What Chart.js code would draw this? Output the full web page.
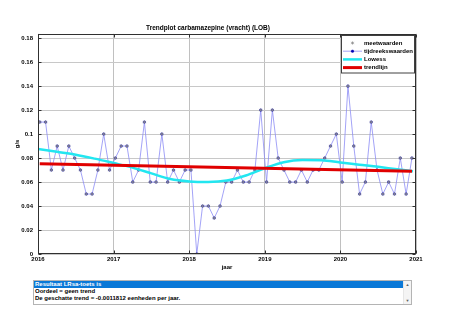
<!DOCTYPE html>
<html>
<head>
<meta charset="utf-8">
<title>Trendplot carbamazepine (vracht) (LOB)</title>
<script src="https://cdn.jsdelivr.net/npm/chart.js@4.4.0/dist/chart.umd.min.js"></script>
<style>
    html, body { margin: 0; padding: 0; background: #fff; }
    #wrap { position: relative; width: 474px; height: 315px; overflow: hidden; }
    #trend-chart { position: absolute; left: 0; top: 0; }
    .result-box {
        position: absolute; left: 33px; top: 280px; width: 377px; height: 23px;
        border: 1px solid #b4b4b4; background: #fff;
        font: bold 6px "Liberation Sans", Arial, sans-serif; color: #000;
    }
    .result-row { height: 7px; line-height: 7px; padding-left: 1px; margin-right: 8px; white-space: nowrap; }
    .result-row.selected { background: #0a78d7; color: #fff; }
    .result-scroll {
        position: absolute; right: 0; top: 0; width: 7px; height: 23px;
        border-left: 1px solid #e6e6e6; background: #f4f4f4;
        font-size: 4px; color: #606060; text-align: center;
    }
    .result-scroll span { position: absolute; left: 0; right: 0; }
</style>
</head>
<body>
<div id="wrap">
    <canvas id="trend-chart" width="474" height="315"></canvas>
    <div class="result-box" id="result-box">
        <div class="result-scroll"><span style="top:1px">&#9650;</span><span style="bottom:1px">&#9660;</span></div>
    </div>
</div>
<script>
// 4-weekly load values (g/s), 13 periods per year, 2016..2020
const startYear = 2016;
const periodsPerYear = 13;
const measured = [
    0.11, 0.11, 0.07, 0.09, 0.07, 0.09, 0.08, 0.07, 0.05, 0.05, 0.07, 0.10, 0.07,
    0.08, 0.09, 0.09, 0.06, 0.07, 0.11, 0.06, 0.06, 0.10, 0.06, 0.07, 0.06, 0.07,
    0.07, 0.00, 0.04, 0.04, 0.03, 0.04, 0.06, 0.06, 0.07, 0.06, 0.06, 0.07, 0.12,
    0.06, 0.12, 0.08, 0.07, 0.06, 0.06, 0.07, 0.06, 0.07, 0.07, 0.08, 0.09, 0.10,
    0.06, 0.14, 0.09, 0.05, 0.06, 0.11, 0.07, 0.05, 0.06, 0.05, 0.08, 0.05, 0.08
];

const lowessYears = [
    2016.0, 2016.25, 2016.5, 2016.75, 2017.0, 2017.25, 2017.5, 2017.75,
    2018.0, 2018.25, 2018.5, 2018.75, 2019.0, 2019.25, 2019.5, 2019.75,
    2020.0, 2020.25, 2020.5, 2020.75, 2020.96
];
const lowessValues = [
    0.0876, 0.0852, 0.0828, 0.0795, 0.0758, 0.0720, 0.0672, 0.0625,
    0.0605, 0.0600, 0.0612, 0.0655, 0.0715, 0.0765, 0.0783, 0.0782,
    0.0762, 0.0745, 0.0727, 0.0706, 0.0690
];

const trendValues = [0.0752, 0.0690];

const yTicks = [0, 0.02, 0.04, 0.06, 0.08, 0.1, 0.12, 0.14, 0.16, 0.18];
const xTicks = [2016, 2017, 2018, 2019, 2020, 2021];

const titleText = "Trendplot carbamazepine (vracht) (LOB)";
const legendLabels = ["meetwaarden", "tijdreekswaarden", "Lowess", "trendlijn"];
const resultLines = [
    "Resultaat LRsa-toets is",
    "Oordeel = geen trend",
    "De geschatte trend = -0.0011812 eenheden per jaar."
];

const FONT = "'Liberation Sans', Arial, Helvetica, sans-serif";

function periodToYear(idx) {
    const year = startYear + Math.floor(idx / periodsPerYear);
    const period = idx % periodsPerYear;
    return year + (period + 0.3) / periodsPerYear;
}

const seriesPoints = measured.map((v, i) => ({ x: periodToYear(i), y: v }));
const lowessPoints = lowessYears.map((x, i) => ({ x, y: lowessValues[i] }));
const trendPoints = [
    { x: seriesPoints[0].x, y: trendValues[0] },
    { x: seriesPoints[seriesPoints.length - 1].x, y: trendValues[1] }
];

// axes box with inward tick marks, like the original plot
const axisFrame = {
    id: "axisFrame",
    afterDatasetsDraw(chart) {
        const { ctx, chartArea: a, scales } = chart;
        ctx.save();
        ctx.strokeStyle = "#303030";
        ctx.lineWidth = 1;
        const l = Math.round(a.left) + 0.5, r = Math.round(a.right) - 0.5;
        const t = Math.round(a.top) + 0.5, b = Math.round(a.bottom) - 0.5;
        ctx.strokeRect(l, t, r - l, b - t);
        ctx.beginPath();
        scales.x.ticks.forEach((tk) => {
            const px = Math.round(scales.x.getPixelForValue(tk.value)) + 0.5;
            ctx.moveTo(px, b); ctx.lineTo(px, b - 3);
            ctx.moveTo(px, t); ctx.lineTo(px, t + 3);
        });
        scales.y.ticks.forEach((tk) => {
            const py = Math.round(scales.y.getPixelForValue(tk.value)) + 0.5;
            ctx.moveTo(l, py); ctx.lineTo(l + 3, py);
            ctx.moveTo(r, py); ctx.lineTo(r - 3, py);
        });
        ctx.stroke();
        ctx.restore();
    }
};

// legend box in the upper right corner of the axes
const boxLegend = {
    id: "boxLegend",
    afterDraw(chart) {
        const { ctx, chartArea: a } = chart;
        const sets = chart.data.datasets;
        const boxW = 73, boxH = 37.5, rowH = 8.2;
        const x0 = Math.round(a.right) - 2 - boxW, y0 = Math.round(a.top) + 1;
        ctx.save();
        ctx.fillStyle = "#fff";
        ctx.fillRect(x0, y0, boxW, boxH);
        ctx.strokeStyle = "#404040";
        ctx.lineWidth = 1;
        ctx.strokeRect(x0 + 0.5, y0 + 0.5, boxW, boxH);
        ctx.font = "bold 6px " + FONT;
        ctx.textBaseline = "middle";
        legendLabels.forEach((label, i) => {
            const ds = sets[i];
            const cy = y0 + 8 + i * rowH;
            const lx0 = x0 + 2, lx1 = x0 + 21, mx = (lx0 + lx1) / 2;
            if (ds.showLine !== false) {
                ctx.strokeStyle = ds.borderColor;
                ctx.lineWidth = ds.borderWidth;
                ctx.beginPath();
                ctx.moveTo(lx0, cy); ctx.lineTo(lx1, cy);
                ctx.stroke();
            }
            if (ds.pointRadius > 0) {
                ctx.fillStyle = ds.pointBackgroundColor;
                ctx.strokeStyle = ds.pointBorderColor;
                ctx.lineWidth = ds.pointBorderWidth;
                Chart.helpers.drawPoint(ctx, {
                    pointStyle: ds.pointStyle, radius: ds.pointRadius,
                    rotation: 0, borderWidth: ds.pointBorderWidth
                }, mx, cy);
            }
            ctx.fillStyle = "#000";
            ctx.fillText(label, x0 + 23, cy);
        });
        ctx.restore();
    }
};

const ctx = document.getElementById("trend-chart");

new Chart(ctx, {
    type: "line",
    data: {
        datasets: [
            {
                label: legendLabels[0],
                data: seriesPoints,
                showLine: false,
                pointStyle: "star",
                pointRadius: 1.6,
                pointBorderWidth: 0.7,
                pointBorderColor: "#8c8c8c",
                pointBackgroundColor: "#8c8c8c",
                borderColor: "#8c8c8c",
                order: 2
            },
            {
                label: legendLabels[1],
                data: seriesPoints,
                borderColor: "#8c8cf5",
                borderWidth: 0.8,
                pointStyle: "circle",
                pointRadius: 1.3,
                pointBorderWidth: 0.4,
                pointBorderColor: "#0000b4",
                pointBackgroundColor: "#0000b4",
                tension: 0,
                order: 3
            },
            {
                label: legendLabels[2],
                data: lowessPoints,
                borderColor: "#22e6f0",
                borderWidth: 2.5,
                pointRadius: 0,
                cubicInterpolationMode: "monotone",
                order: 1
            },
            {
                label: legendLabels[3],
                data: trendPoints,
                borderColor: "#e00000",
                borderWidth: 3,
                pointRadius: 0,
                order: 0
            }
        ]
    },
    options: {
        responsive: false,
        animation: false,
        events: [],
        color: "#000",
        font: { family: FONT, size: 6, weight: "bold" },
        layout: { padding: { left: 0, right: 58, top: 0, bottom: 41 } },
        plugins: {
            legend: { display: false },
            tooltip: { enabled: false },
            title: {
                display: true,
                text: titleText,
                color: "#000",
                font: { family: FONT, size: 6.5, weight: "bold" },
                padding: { top: 24, bottom: 2 }
            }
        },
        scales: {
            x: {
                type: "linear",
                min: xTicks[0],
                max: xTicks[xTicks.length - 1],
                afterFit(scale) { scale.height = 20; },
                afterBuildTicks(scale) {
                    scale.ticks = xTicks.map((value) => ({ value }));
                },
                ticks: {
                    padding: 2,
                    color: "#000",
                    font: { family: FONT, size: 6, weight: "bold" },
                    callback: (v) => String(v)
                },
                grid: { color: "#c0c0c0", lineWidth: 1, drawTicks: false },
                border: { display: false },
                title: {
                    display: true,
                    text: "jaar",
                    color: "#000",
                    font: { family: FONT, size: 6, weight: "bold" },
                    padding: { top: 0, bottom: 3 }
                }
            },
            y: {
                min: 0,
                max: 0.1836,
                afterFit(scale) { scale.width = 38; },
                afterBuildTicks(scale) {
                    scale.ticks = yTicks.map((value) => ({ value }));
                },
                ticks: {
                    padding: 5,
                    color: "#000",
                    font: { family: FONT, size: 6, weight: "bold" },
                    callback: (v) => String(Number(v.toFixed(2)))
                },
                grid: { color: "#c8c8c8", lineWidth: 1, drawTicks: false },
                border: { display: false },
                title: {
                    display: true,
                    text: "g/s",
                    color: "#000",
                    font: { family: FONT, size: 6, weight: "bold" },
                    padding: { top: 14, bottom: 0 }
                }
            }
        }
    },
    plugins: [axisFrame, boxLegend]
});

const box = document.getElementById("result-box");
resultLines.forEach((line, i) => {
    const row = document.createElement("div");
    row.className = "result-row" + (i === 0 ? " selected" : "");
    row.textContent = line;
    box.appendChild(row);
});
</script>
</body>
</html>
